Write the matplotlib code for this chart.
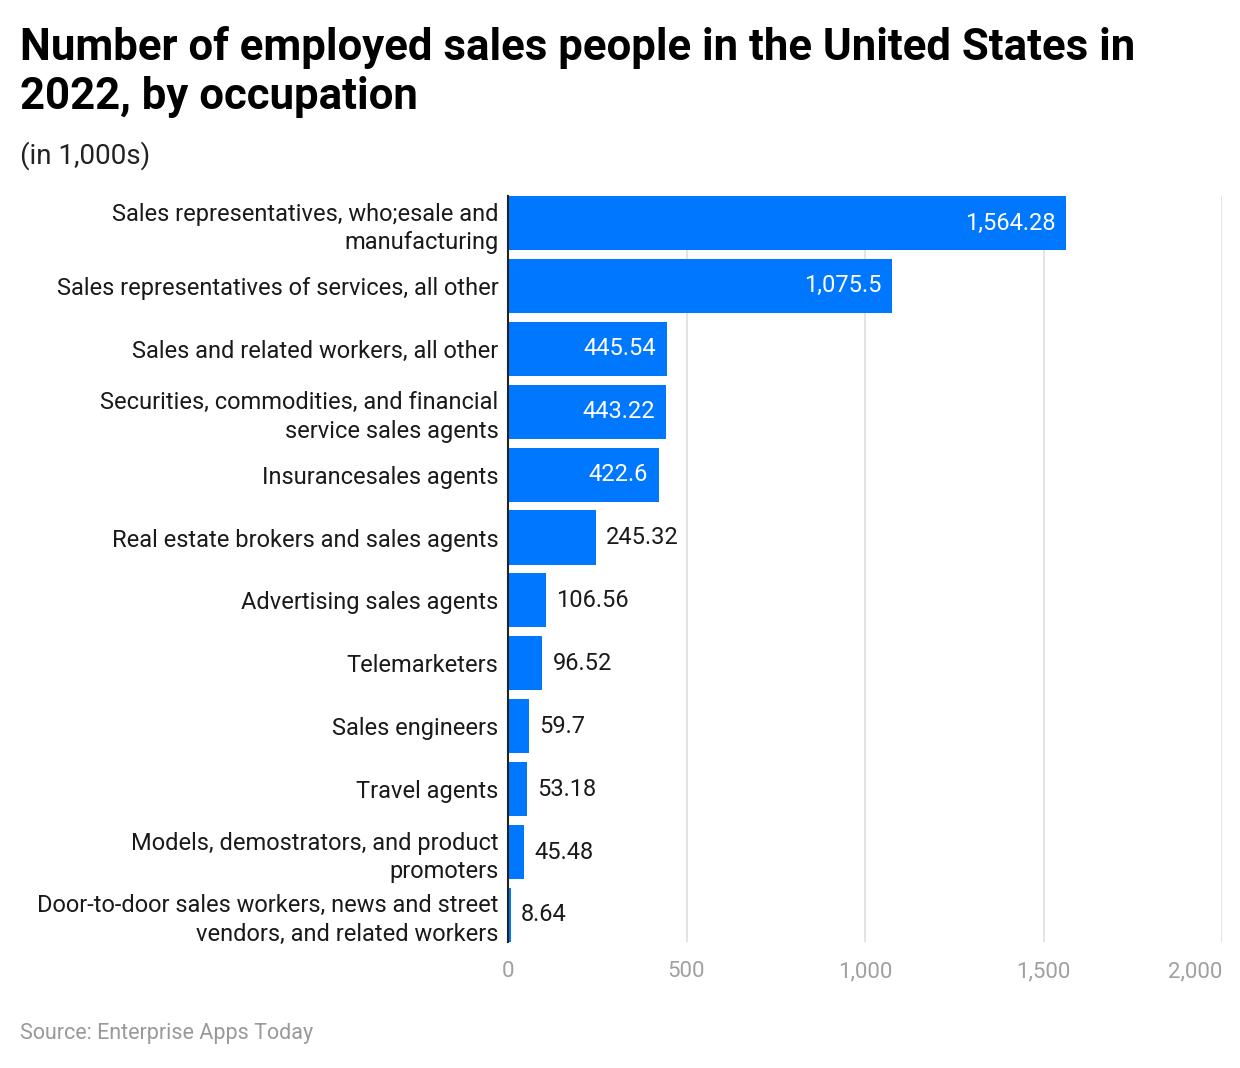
import matplotlib.pyplot as plt

plt.rcParams['font.family'] = ['Roboto', 'DejaVu Sans']

# Datos
occupations = [
    'Sales representatives, who;esale and\nmanufacturing',
    'Sales representatives of services, all other',
    'Sales and related workers, all other',
    'Securities, commodities, and financial\nservice sales agents',
    'Insurancesales agents',
    'Real estate brokers and sales agents',
    'Advertising sales agents',
    'Telemarketers',
    'Sales engineers',
    'Travel agents',
    'Models, demostrators, and product\npromoters',
    'Door-to-door sales workers, news and street\nvendors, and related workers',
]
employed = [1564.28, 1075.5, 445.54, 443.22, 422.6, 245.32, 106.56, 96.52,
            59.7, 53.18, 45.48, 8.64]
value_labels = ['1,564.28', '1,075.5', '445.54', '443.22', '422.6', '245.32',
                '106.56', '96.52', '59.7', '53.18', '45.48', '8.64']
x_ticks = [0, 500, 1000, 1500, 2000]
x_ticklabels = ['0', '500', '1,000', '1,500', '2,000']

fig = plt.figure(figsize=(12.4, 10.68), dpi=100)
ax = fig.add_axes([0.4097, 0.118, 0.5758, 0.6985])

pos = list(range(len(employed)))
ax.barh(pos, employed, height=0.86, color='#0077ff', zorder=2)

for i, (v, lab) in enumerate(zip(employed, value_labels)):
    if v > 400:
        ax.text(v - 30, i, lab, ha='right', va='center', color='white', fontsize=17)
    else:
        ax.text(v + 28, i, lab, ha='left', va='center', color='#1a1a1a', fontsize=17)

ax.set_xlim(0, 2000)
ax.set_ylim(11.43, -0.43)
ax.set_yticks(pos)
ax.set_yticklabels(occupations, fontsize=17, color='#1a1a1a', linespacing=1.3)
ax.set_xticks(x_ticks)
ax.set_xticklabels(x_ticklabels, fontsize=16, color='#a0a0a0')
ax.get_xticklabels()[-1].set_ha('right')
ax.tick_params(axis='both', length=0)
ax.tick_params(axis='y', pad=7)
ax.tick_params(axis='x', pad=14)
ax.grid(axis='x', color='#e2e2e2', linewidth=1.3, zorder=0)
for s in ['top', 'right', 'bottom']:
    ax.spines[s].set_visible(False)
ax.spines['left'].set_color('#222222')
ax.spines['left'].set_linewidth(1.5)
ax.spines['left'].set_zorder(3)

fig.text(0.016, 1 - 26 / 1068,
         'Number of employed sales people in the United States in\n2022, by occupation',
         fontsize=31.5, fontweight='bold', va='top', ha='left', linespacing=1.2)
fig.text(0.016, 1 - 141 / 1068, '(in 1,000s)', fontsize=20, va='top', ha='left',
         color='#222222')
fig.text(0.016, 1 - 1033 / 1068, 'Source: Enterprise Apps Today', fontsize=15.5,
         va='center', ha='left', color='#999999')

fig.savefig('out.png', dpi=100)
